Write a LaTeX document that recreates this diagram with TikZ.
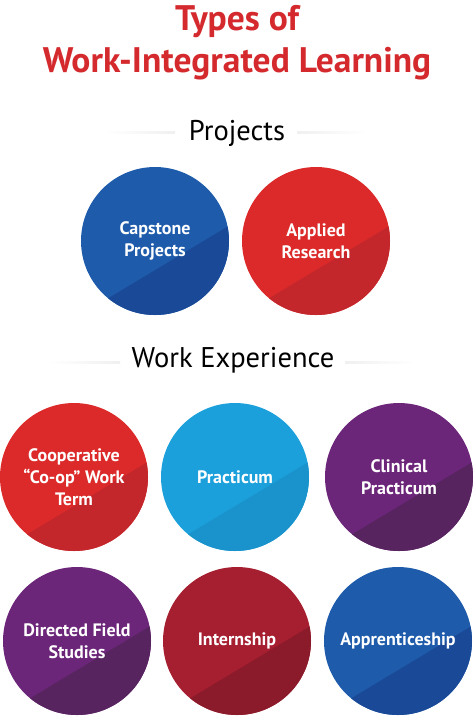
\documentclass[tikz,border=0pt]{standalone}
\usepackage{fontspec}
\setmainfont{PT Sans}
\usetikzlibrary{calc, positioning}

\definecolor{wilred}{HTML}{D42A2E}
\definecolor{blueA}{HTML}{1E5CAB}
\definecolor{blueB}{HTML}{1A4A97}
\definecolor{redA}{HTML}{DC2A2A}
\definecolor{redB}{HTML}{C3272C}
\definecolor{cyanA}{HTML}{1BA0DB}
\definecolor{cyanB}{HTML}{1A93CC}
\definecolor{purpA}{HTML}{6C2679}
\definecolor{purpB}{HTML}{57245F}
\definecolor{wineA}{HTML}{A61F30}
\definecolor{wineB}{HTML}{8B1B2A}

\tikzset{
  disc/.style 2 args={circle, minimum size=148pt, inner sep=0pt, fill=#1,
    text=white, align=center, font=\fontsize{18}{22}\selectfont\bfseries,
    path picture={
      \coordinate (c) at (path picture bounding box.center);
      \fill[#2] ($(c)+(-59:25pt)+(31:200pt)$) -- ($(c)+(-59:25pt)+(211:200pt)$)
        -- ($(c)+(-59:200pt)+(211:200pt)$) -- ($(c)+(-59:200pt)+(31:200pt)$) -- cycle;
    }},
  heading/.style={anchor=base, font=\fontsize{28.5}{30}\selectfont},
  title/.style={anchor=base, text=wilred, font=\fontsize{35.5}{40}\selectfont\bfseries}
}

\begin{document}
\begin{tikzpicture}[x=1pt, y=1pt]
\useasboundingbox (0,0) rectangle (474,-716);

% title
\node[title] (ttop) at (237,-30) {Types of};
\node[title] (tbot) at (237,-72) {Work-Integrated Learning};

% projects
\shade[left color=white, right color=black!6] (105,-131) rectangle (175,-133);
\shade[left color=black!6, right color=white] (297,-131) rectangle (367,-133);
\node[heading] (proj) at (237,-140) {Projects};

\node[disc={blueA}{blueB}] (cap) at (155,-241) {Capstone\\Projects};
\node[disc={redA}{redB}] (app) at (316,-241) {Applied\\Research};

% work experience
\shade[left color=white, right color=black!6] (48,-361) rectangle (120,-363);
\shade[left color=black!6, right color=white] (345,-361) rectangle (415,-363);
\node[heading] (work) at (233,-367) {Work Experience};

\node[disc={redA}{redB}] (coop) at (74,-477) {Cooperative\\``Co-op'' Work\\Term};
\node[disc={cyanA}{cyanB}] (prac) at (235,-477) {Practicum};
\node[disc={purpA}{purpB}] (clin) at (399,-477) {Clinical\\Practicum};

\node[disc={purpA}{purpB}] (dfs) at (77,-641) {Directed Field\\Studies};
\node[disc={wineA}{wineB}] (intern) at (237,-641) {Internship};
\node[disc={blueA}{blueB}] (appr) at (398,-641) {Apprenticeship};
\end{tikzpicture}
\end{document}
